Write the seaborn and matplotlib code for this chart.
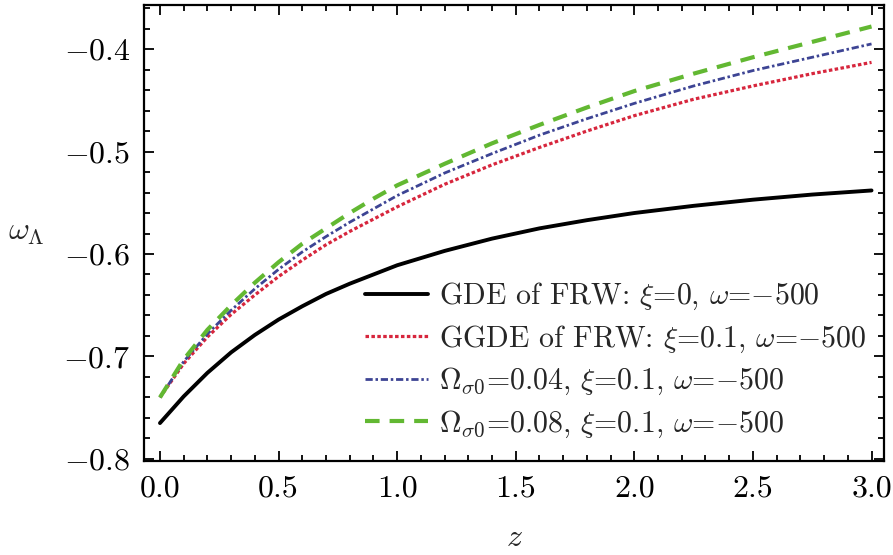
import numpy as np
import pandas as pd
import matplotlib
matplotlib.use("Agg")
import matplotlib.pyplot as plt
from matplotlib.ticker import MultipleLocator, FormatStrFormatter
import seaborn as sns

# redshift grid
z = [0.0, 0.1, 0.2, 0.3, 0.4, 0.5, 0.6, 0.7, 0.8, 0.9, 1.0,
     1.2, 1.4, 1.6, 1.8, 2.0, 2.25, 2.5, 2.75, 3.0]

# omega_Lambda for each model
gde_frw = [-0.765, -0.739, -0.716, -0.696, -0.679, -0.664, -0.651, -0.639,
           -0.629, -0.620, -0.611, -0.597, -0.585, -0.575, -0.567, -0.560,
           -0.553, -0.547, -0.542, -0.538]
ggde_frw = [-0.740, -0.707, -0.681, -0.659, -0.640, -0.622, -0.606, -0.591,
            -0.578, -0.566, -0.554, -0.532, -0.513, -0.496, -0.480, -0.465,
            -0.449, -0.436, -0.424, -0.413]
omega_004 = [-0.740, -0.705, -0.678, -0.655, -0.634, -0.615, -0.598, -0.583,
             -0.569, -0.556, -0.543, -0.521, -0.502, -0.484, -0.468, -0.453,
             -0.436, -0.421, -0.408, -0.395]
omega_008 = [-0.740, -0.703, -0.674, -0.650, -0.628, -0.608, -0.590, -0.575,
             -0.560, -0.546, -0.533, -0.512, -0.492, -0.474, -0.457, -0.441,
             -0.424, -0.408, -0.393, -0.378]

labels = [r"GDE of FRW: $\xi$=0, $\omega$=$-$500",
          r"GGDE of FRW: $\xi$=0.1, $\omega$=$-$500",
          r"$\Omega_{\sigma 0}$=0.04, $\xi$=0.1, $\omega$=$-$500",
          r"$\Omega_{\sigma 0}$=0.08, $\xi$=0.1, $\omega$=$-$500"]

sns.set_style("ticks")
plt.rcParams["font.family"] = "serif"
plt.rcParams["font.serif"] = ["cmr10", "DejaVu Serif"]
plt.rcParams["mathtext.fontset"] = "cm"
plt.rcParams["axes.formatter.use_mathtext"] = True

fig = plt.figure(figsize=(8.93, 5.55), dpi=100)
ax = fig.add_axes([0.1616, 0.1694, 0.8287, 0.8216])

df = pd.DataFrame({"z": z, "gde": gde_frw, "ggde": ggde_frw,
                   "o004": omega_004, "o008": omega_008})

sns.lineplot(data=df, x="z", y="gde", ax=ax, color="black", lw=2.8,
             label=labels[0])
sns.lineplot(data=df, x="z", y="ggde", ax=ax, color="#d7263d", lw=2.3,
             linestyle=(0, (1.1, 0.75)), label=labels[1])
sns.lineplot(data=df, x="z", y="o004", ax=ax, color="#3d4494", lw=2.0,
             linestyle=(0, (2.6, 1.0, 0.9, 1.0)), label=labels[2])
sns.lineplot(data=df, x="z", y="o008", ax=ax, color="#62b832", lw=3.0,
             linestyle=(0, (3.5, 2.4)), label=labels[3])

ax.set_xlim(-0.066, 3.054)
ax.set_ylim(-0.802, -0.357)
ax.xaxis.set_major_locator(MultipleLocator(0.5))
ax.xaxis.set_minor_locator(MultipleLocator(0.1))
ax.yaxis.set_major_locator(MultipleLocator(0.1))
ax.yaxis.set_minor_locator(MultipleLocator(0.02))
ax.xaxis.set_major_formatter(FormatStrFormatter("%.1f"))
ax.yaxis.set_major_formatter(FormatStrFormatter(r"$%.1f$"))

ax.tick_params(which="both", direction="in", top=True, right=True,
               width=1.3, colors="black", labelsize=23)
ax.tick_params(which="major", length=7, pad=10)
ax.tick_params(which="minor", length=4)
for s in ax.spines.values():
    s.set_linewidth(1.6)
    s.set_color("black")

ax.set_xlabel(r"$z$", fontsize=23)
ax.set_ylabel(r"$\omega_\Lambda$", fontsize=23, rotation=0)
ax.xaxis.set_label_coords(0.5, -0.14)
ax.yaxis.set_label_coords(-0.16, 0.47)

ax.legend(loc="upper left", bbox_to_anchor=(0.298, 0.395), frameon=False,
          fontsize=21.5, handlelength=2.1, handletextpad=0.4,
          labelspacing=0.38, borderpad=0, borderaxespad=0)

plt.savefig("out.png", dpi=100)
plt.close()
